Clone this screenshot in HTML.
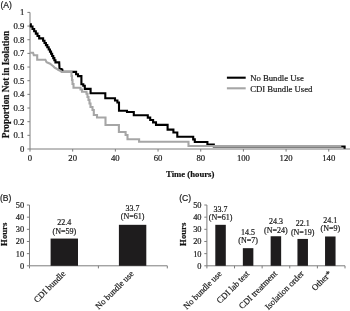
<!DOCTYPE html>
<html><head><meta charset="utf-8"><style>
html,body{margin:0;padding:0;background:#fff;width:350px;height:311px;overflow:hidden}
svg{display:block;filter:blur(0.28px)} text{stroke:#1a1a1a;stroke-width:0.2px}
</style></head><body>
<svg width="350" height="311" viewBox="0 0 350 311">
<rect width="350" height="311" fill="#fff"/>
<text x="0.5" y="8.2" font-family="Liberation Sans" font-size="8.6" fill="#1a1a1a">(A)</text>
<line x1="30.0" y1="12.4" x2="30.0" y2="149.0" stroke="#7c7c7c" stroke-width="1"/>
<line x1="30.0" y1="149.0" x2="350" y2="149.0" stroke="#7c7c7c" stroke-width="1"/>
<line x1="27.4" y1="149.00" x2="30.0" y2="149.00" stroke="#7c7c7c" stroke-width="1"/>
<text x="24.3" y="151.90" text-anchor="end" font-family="Liberation Serif" font-size="8.7" fill="#1a1a1a">0</text>
<line x1="27.4" y1="135.34" x2="30.0" y2="135.34" stroke="#7c7c7c" stroke-width="1"/>
<text x="24.3" y="138.24" text-anchor="end" font-family="Liberation Serif" font-size="8.7" fill="#1a1a1a">0.1</text>
<line x1="27.4" y1="121.68" x2="30.0" y2="121.68" stroke="#7c7c7c" stroke-width="1"/>
<text x="24.3" y="124.58" text-anchor="end" font-family="Liberation Serif" font-size="8.7" fill="#1a1a1a">0.2</text>
<line x1="27.4" y1="108.02" x2="30.0" y2="108.02" stroke="#7c7c7c" stroke-width="1"/>
<text x="24.3" y="110.92" text-anchor="end" font-family="Liberation Serif" font-size="8.7" fill="#1a1a1a">0.3</text>
<line x1="27.4" y1="94.36" x2="30.0" y2="94.36" stroke="#7c7c7c" stroke-width="1"/>
<text x="24.3" y="97.26" text-anchor="end" font-family="Liberation Serif" font-size="8.7" fill="#1a1a1a">0.4</text>
<line x1="27.4" y1="80.70" x2="30.0" y2="80.70" stroke="#7c7c7c" stroke-width="1"/>
<text x="24.3" y="83.60" text-anchor="end" font-family="Liberation Serif" font-size="8.7" fill="#1a1a1a">0.5</text>
<line x1="27.4" y1="67.04" x2="30.0" y2="67.04" stroke="#7c7c7c" stroke-width="1"/>
<text x="24.3" y="69.94" text-anchor="end" font-family="Liberation Serif" font-size="8.7" fill="#1a1a1a">0.6</text>
<line x1="27.4" y1="53.38" x2="30.0" y2="53.38" stroke="#7c7c7c" stroke-width="1"/>
<text x="24.3" y="56.28" text-anchor="end" font-family="Liberation Serif" font-size="8.7" fill="#1a1a1a">0.7</text>
<line x1="27.4" y1="39.72" x2="30.0" y2="39.72" stroke="#7c7c7c" stroke-width="1"/>
<text x="24.3" y="42.62" text-anchor="end" font-family="Liberation Serif" font-size="8.7" fill="#1a1a1a">0.8</text>
<line x1="27.4" y1="26.06" x2="30.0" y2="26.06" stroke="#7c7c7c" stroke-width="1"/>
<text x="24.3" y="28.96" text-anchor="end" font-family="Liberation Serif" font-size="8.7" fill="#1a1a1a">0.9</text>
<line x1="27.4" y1="12.40" x2="30.0" y2="12.40" stroke="#7c7c7c" stroke-width="1"/>
<text x="24.3" y="15.30" text-anchor="end" font-family="Liberation Serif" font-size="8.7" fill="#1a1a1a">1</text>
<line x1="30.00" y1="149.0" x2="30.00" y2="151.6" stroke="#7c7c7c" stroke-width="1"/>
<text x="30.00" y="161.4" text-anchor="middle" font-family="Liberation Serif" font-size="8.7" fill="#1a1a1a">0</text>
<line x1="72.68" y1="149.0" x2="72.68" y2="151.6" stroke="#7c7c7c" stroke-width="1"/>
<text x="72.68" y="161.4" text-anchor="middle" font-family="Liberation Serif" font-size="8.7" fill="#1a1a1a">20</text>
<line x1="115.36" y1="149.0" x2="115.36" y2="151.6" stroke="#7c7c7c" stroke-width="1"/>
<text x="115.36" y="161.4" text-anchor="middle" font-family="Liberation Serif" font-size="8.7" fill="#1a1a1a">40</text>
<line x1="158.04" y1="149.0" x2="158.04" y2="151.6" stroke="#7c7c7c" stroke-width="1"/>
<text x="158.04" y="161.4" text-anchor="middle" font-family="Liberation Serif" font-size="8.7" fill="#1a1a1a">60</text>
<line x1="200.72" y1="149.0" x2="200.72" y2="151.6" stroke="#7c7c7c" stroke-width="1"/>
<text x="200.72" y="161.4" text-anchor="middle" font-family="Liberation Serif" font-size="8.7" fill="#1a1a1a">80</text>
<line x1="243.40" y1="149.0" x2="243.40" y2="151.6" stroke="#7c7c7c" stroke-width="1"/>
<text x="243.40" y="161.4" text-anchor="middle" font-family="Liberation Serif" font-size="8.7" fill="#1a1a1a">100</text>
<line x1="286.08" y1="149.0" x2="286.08" y2="151.6" stroke="#7c7c7c" stroke-width="1"/>
<text x="286.08" y="161.4" text-anchor="middle" font-family="Liberation Serif" font-size="8.7" fill="#1a1a1a">120</text>
<line x1="328.76" y1="149.0" x2="328.76" y2="151.6" stroke="#7c7c7c" stroke-width="1"/>
<text x="328.76" y="161.4" text-anchor="middle" font-family="Liberation Serif" font-size="8.7" fill="#1a1a1a">140</text>
<text x="190.2" y="177.2" text-anchor="middle" font-family="Liberation Serif" font-weight="bold" font-size="8.7" fill="#111">Time (hours)</text>
<text transform="translate(8.6,84.5) rotate(-90)" text-anchor="middle" font-family="Liberation Serif" font-weight="bold" font-size="9.3" fill="#111">Proportion Not in Isolation</text>
<path d="M30,24.2 H30.83 V26.57 H32.50 V28.93 H34.17 V31.30 H35.83 V33.67 H37.50 V36.03 H39.17 V38.40 H40.00 H42.4 H43.10 V40.78 H44.50 V42.96 H45.90 V45.14 H47.30 V47.32 H48.70 V49.50 H49.40 H49.95 V51.65 H51.05 V53.80 H52.15 V55.95 H53.25 V58.10 H54.35 V60.25 H55.45 V62.40 H56.00 H59.2 L59.5,68.2 L62.3,69.5 L62.6,71.9 H76.1 V74.2 H78 V76.1 H81.4 V84.3 H83.3 V85.7 H84.8 V88.9 H90.6 V93.2 H105.3 V98.3 H115 V100.5 H117.4 V102.5 H119 V110.7 H127 V112 H133.8 V115.2 H147.8 V117.6 H150.2 V120 H153.1 V122.4 H156 V124.9 H167.6 V129.6 H173.4 V132.5 H177.3 V136.8 H193.2 V139.4 H194.8 V142 H207.4 V144.5 H213.8 V146.5 H344.6 V148.8" fill="none" stroke="#000" stroke-width="2.1" stroke-linejoin="miter"/>
<path d="M30,52.8 H33.1 L33.8,55.2 H37.2 V59.7 H45.4 L46.6,62.1 L50.1,63.7 L51.7,65 L53.3,66.3 L54.6,67.6 L56.2,68.5 L58.1,69.8 L60.7,71.1 L61.5,71.9 H71.5 V76 H72 V80 H72.5 V84 H73.5 V87.8 H80.5 V89.5 H82 V91.7 H86.5 V93.8 H87.5 V97 H88.5 V100 H89.5 V103.5 H90.5 V107 H92.5 V110 H93.8 V115 H97 V117.5 H105.5 V125 H118.9 V132 H125.6 V135 H127.5 V139.3 H139.1 V141.8 H188.5 V146 H341.3" fill="none" stroke="#a6a6a6" stroke-width="2.1" stroke-linejoin="miter"/>
<line x1="226.9" y1="77.7" x2="245.7" y2="77.7" stroke="#000" stroke-width="2.1"/>
<line x1="226.9" y1="88.3" x2="245.7" y2="88.3" stroke="#a6a6a6" stroke-width="2.1"/>
<text x="250.2" y="80.7" font-family="Liberation Serif" font-size="8.7" fill="#1a1a1a">No Bundle Use</text>
<text x="250.2" y="91.7" font-family="Liberation Serif" font-size="8.7" fill="#1a1a1a">CDI Bundle Used</text>
<text x="0.0" y="200.5" font-family="Liberation Sans" font-size="8.6" fill="#1a1a1a">(B)</text>
<line x1="29.5" y1="205.00" x2="29.5" y2="265.8" stroke="#7c7c7c" stroke-width="1"/>
<line x1="29.5" y1="265.8" x2="167.3" y2="265.8" stroke="#7c7c7c" stroke-width="1"/>
<line x1="26.9" y1="265.80" x2="29.5" y2="265.80" stroke="#7c7c7c" stroke-width="1"/>
<text x="24.10" y="268.80" text-anchor="end" font-family="Liberation Serif" font-size="8.4" fill="#1a1a1a">0</text>
<line x1="26.9" y1="253.64" x2="29.5" y2="253.64" stroke="#7c7c7c" stroke-width="1"/>
<text x="24.10" y="256.64" text-anchor="end" font-family="Liberation Serif" font-size="8.4" fill="#1a1a1a">10</text>
<line x1="26.9" y1="241.48" x2="29.5" y2="241.48" stroke="#7c7c7c" stroke-width="1"/>
<text x="24.10" y="244.48" text-anchor="end" font-family="Liberation Serif" font-size="8.4" fill="#1a1a1a">20</text>
<line x1="26.9" y1="229.32" x2="29.5" y2="229.32" stroke="#7c7c7c" stroke-width="1"/>
<text x="24.10" y="232.32" text-anchor="end" font-family="Liberation Serif" font-size="8.4" fill="#1a1a1a">30</text>
<line x1="26.9" y1="217.16" x2="29.5" y2="217.16" stroke="#7c7c7c" stroke-width="1"/>
<text x="24.10" y="220.16" text-anchor="end" font-family="Liberation Serif" font-size="8.4" fill="#1a1a1a">40</text>
<line x1="26.9" y1="205.00" x2="29.5" y2="205.00" stroke="#7c7c7c" stroke-width="1"/>
<text x="24.10" y="208.00" text-anchor="end" font-family="Liberation Serif" font-size="8.4" fill="#1a1a1a">50</text>
<line x1="29.50" y1="265.8" x2="29.50" y2="268.40000000000003" stroke="#7c7c7c" stroke-width="1"/>
<line x1="98.40" y1="265.8" x2="98.40" y2="268.40000000000003" stroke="#7c7c7c" stroke-width="1"/>
<line x1="167.30" y1="265.8" x2="167.30" y2="268.40000000000003" stroke="#7c7c7c" stroke-width="1"/>
<rect x="50.60" y="238.56" width="27.40" height="27.24" fill="#1e1c1d"/>
<text x="64.30" y="224.60" text-anchor="middle" font-family="Liberation Serif" font-size="8" fill="#1a1a1a">22.4</text>
<text x="64.30" y="233.60" text-anchor="middle" font-family="Liberation Serif" font-size="8" fill="#1a1a1a">(N=59)</text>
<text transform="translate(66.00,274.3) rotate(-45)" text-anchor="end" font-family="Liberation Serif" font-size="8.7" fill="#1a1a1a">CDI bundle</text>
<rect x="118.90" y="224.82" width="27.40" height="40.98" fill="#1e1c1d"/>
<text x="132.60" y="211.10" text-anchor="middle" font-family="Liberation Serif" font-size="8" fill="#1a1a1a">33.7</text>
<text x="132.60" y="219.10" text-anchor="middle" font-family="Liberation Serif" font-size="8" fill="#1a1a1a">(N=61)</text>
<text transform="translate(134.30,274.3) rotate(-45)" text-anchor="end" font-family="Liberation Serif" font-size="8.7" fill="#1a1a1a">No bundle use</text>
<text transform="translate(7.4,234.3) rotate(-90)" text-anchor="middle" font-family="Liberation Serif" font-weight="bold" font-size="8.7" fill="#111">Hours</text>
<text x="179.2" y="200.5" font-family="Liberation Sans" font-size="8.6" fill="#1a1a1a">(C)</text>
<line x1="206.9" y1="205.00" x2="206.9" y2="265.8" stroke="#7c7c7c" stroke-width="1"/>
<line x1="206.9" y1="265.8" x2="345.0" y2="265.8" stroke="#7c7c7c" stroke-width="1"/>
<line x1="204.3" y1="265.80" x2="206.9" y2="265.80" stroke="#7c7c7c" stroke-width="1"/>
<text x="201.50" y="268.80" text-anchor="end" font-family="Liberation Serif" font-size="8.4" fill="#1a1a1a">0</text>
<line x1="204.3" y1="253.64" x2="206.9" y2="253.64" stroke="#7c7c7c" stroke-width="1"/>
<text x="201.50" y="256.64" text-anchor="end" font-family="Liberation Serif" font-size="8.4" fill="#1a1a1a">10</text>
<line x1="204.3" y1="241.48" x2="206.9" y2="241.48" stroke="#7c7c7c" stroke-width="1"/>
<text x="201.50" y="244.48" text-anchor="end" font-family="Liberation Serif" font-size="8.4" fill="#1a1a1a">20</text>
<line x1="204.3" y1="229.32" x2="206.9" y2="229.32" stroke="#7c7c7c" stroke-width="1"/>
<text x="201.50" y="232.32" text-anchor="end" font-family="Liberation Serif" font-size="8.4" fill="#1a1a1a">30</text>
<line x1="204.3" y1="217.16" x2="206.9" y2="217.16" stroke="#7c7c7c" stroke-width="1"/>
<text x="201.50" y="220.16" text-anchor="end" font-family="Liberation Serif" font-size="8.4" fill="#1a1a1a">40</text>
<line x1="204.3" y1="205.00" x2="206.9" y2="205.00" stroke="#7c7c7c" stroke-width="1"/>
<text x="201.50" y="208.00" text-anchor="end" font-family="Liberation Serif" font-size="8.4" fill="#1a1a1a">50</text>
<line x1="206.90" y1="265.8" x2="206.90" y2="268.40000000000003" stroke="#7c7c7c" stroke-width="1"/>
<line x1="234.52" y1="265.8" x2="234.52" y2="268.40000000000003" stroke="#7c7c7c" stroke-width="1"/>
<line x1="262.14" y1="265.8" x2="262.14" y2="268.40000000000003" stroke="#7c7c7c" stroke-width="1"/>
<line x1="289.76" y1="265.8" x2="289.76" y2="268.40000000000003" stroke="#7c7c7c" stroke-width="1"/>
<line x1="317.38" y1="265.8" x2="317.38" y2="268.40000000000003" stroke="#7c7c7c" stroke-width="1"/>
<line x1="345.00" y1="265.8" x2="345.00" y2="268.40000000000003" stroke="#7c7c7c" stroke-width="1"/>
<rect x="215.30" y="224.82" width="10.50" height="40.98" fill="#1e1c1d"/>
<text x="220.55" y="211.70" text-anchor="middle" font-family="Liberation Serif" font-size="8" fill="#1a1a1a">33.7</text>
<text x="220.55" y="220.20" text-anchor="middle" font-family="Liberation Serif" font-size="8" fill="#1a1a1a">(N=61)</text>
<text transform="translate(222.25,274.3) rotate(-45)" text-anchor="end" font-family="Liberation Serif" font-size="8.7" fill="#1a1a1a">No bundle use</text>
<rect x="242.85" y="248.17" width="10.50" height="17.63" fill="#1e1c1d"/>
<text x="248.10" y="234.60" text-anchor="middle" font-family="Liberation Serif" font-size="8" fill="#1a1a1a">14.5</text>
<text x="248.10" y="243.10" text-anchor="middle" font-family="Liberation Serif" font-size="8" fill="#1a1a1a">(N=7)</text>
<text transform="translate(249.80,274.3) rotate(-45)" text-anchor="end" font-family="Liberation Serif" font-size="8.7" fill="#1a1a1a">CDI lab test</text>
<rect x="270.65" y="236.25" width="10.50" height="29.55" fill="#1e1c1d"/>
<text x="275.90" y="224.10" text-anchor="middle" font-family="Liberation Serif" font-size="8" fill="#1a1a1a">24.3</text>
<text x="275.90" y="232.80" text-anchor="middle" font-family="Liberation Serif" font-size="8" fill="#1a1a1a">(N=24)</text>
<text transform="translate(277.60,274.3) rotate(-45)" text-anchor="end" font-family="Liberation Serif" font-size="8.7" fill="#1a1a1a">CDI treatment</text>
<rect x="297.45" y="238.93" width="10.50" height="26.87" fill="#1e1c1d"/>
<text x="302.70" y="225.60" text-anchor="middle" font-family="Liberation Serif" font-size="8" fill="#1a1a1a">22.1</text>
<text x="302.70" y="234.60" text-anchor="middle" font-family="Liberation Serif" font-size="8" fill="#1a1a1a">(N=19)</text>
<text transform="translate(304.40,274.3) rotate(-45)" text-anchor="end" font-family="Liberation Serif" font-size="8.7" fill="#1a1a1a">Isolation order</text>
<rect x="325.05" y="236.49" width="10.50" height="29.31" fill="#1e1c1d"/>
<text x="330.30" y="223.00" text-anchor="middle" font-family="Liberation Serif" font-size="8" fill="#1a1a1a">24.1</text>
<text x="330.30" y="231.40" text-anchor="middle" font-family="Liberation Serif" font-size="8" fill="#1a1a1a">(N=9)</text>
<text transform="translate(332.00,274.3) rotate(-45)" text-anchor="end" font-family="Liberation Serif" font-size="8.7" fill="#1a1a1a">Other*</text>
<text transform="translate(186.4,234.3) rotate(-90)" text-anchor="middle" font-family="Liberation Serif" font-weight="bold" font-size="8.7" fill="#111">Hours</text>
</svg>
</body></html>
